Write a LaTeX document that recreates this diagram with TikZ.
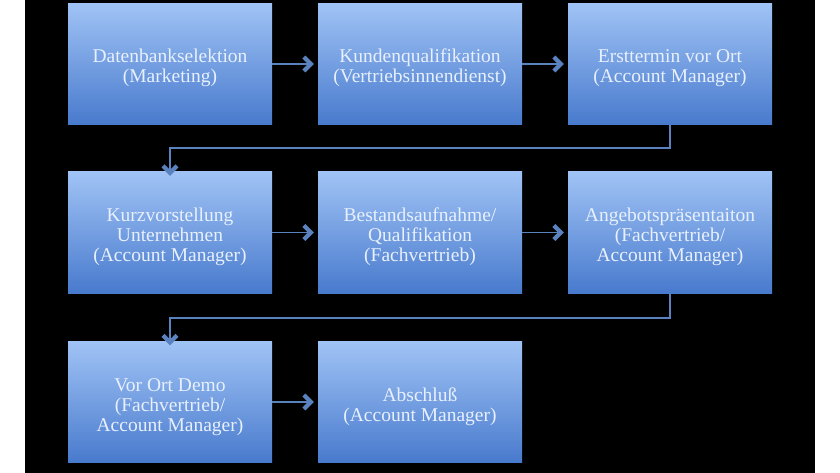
\documentclass[tikz,border=0pt]{standalone}
\usepackage{fontspec}
\setmainfont{Liberation Serif}
\usetikzlibrary{arrows.meta}
\definecolor{boxtop}{RGB}{160,195,245}
\definecolor{boxbot}{RGB}{72,122,205}
\definecolor{txt}{RGB}{232,240,253}
\definecolor{lnk}{RGB}{90,130,190}
\newcommand{\steptext}[1]{\raisebox{-5pt}[\height][\depth]{\begin{tabular}{@{}c@{}}#1\end{tabular}}}
\begin{document}
\begin{tikzpicture}[x=1pt,y=-1pt,
  stepbox/.style={draw=none, minimum width=204pt, minimum height=121pt, inner sep=0pt,
    top color=boxtop, bottom color=boxbot, text=txt,
    font=\fontsize{19.5}{20}\selectfont},
  link/.style={draw=lnk, line width=1.6pt,
    -{Straight Barb[length=7pt,width=14pt,line width=4.2pt]}}]
\useasboundingbox (0,0) rectangle (840,473);
\fill[white] (0,0) rectangle (840,473);
\fill[black] (25,0) rectangle (815,473);
\node[stepbox] (a) at (170,64) {\steptext{Datenbankselektion\\(Marketing)}};
\node[stepbox] (b) at (420,64) {\steptext{Kundenqualifikation\\(Vertriebsinnendienst)}};
\node[stepbox] (c) at (670,64) {\steptext{Ersttermin vor Ort\\(Account Manager)}};
\node[stepbox] (d) at (170,232.5) {\steptext{Kurzvorstellung\\Unternehmen\\(Account Manager)}};
\node[stepbox] (e) at (420,232.5) {\steptext{Bestandsaufnahme/\\Qualifikation\\(Fachvertrieb)}};
\node[stepbox] (f) at (670,232.5) {\steptext{Angebotspräsentaiton\\(Fachvertrieb/\\Account Manager)}};
\node[stepbox] (g) at (170,402) {\steptext{Vor Ort Demo\\(Fachvertrieb/\\Account Manager)}};
\node[stepbox] (h) at (420,402) {\steptext{Abschluß\\(Account Manager)}};
\coordinate (k1) at (670,148);
\coordinate (k2) at (170,148);
\coordinate (k3) at (670,318);
\coordinate (k4) at (170,318);
\draw[link] (a.east) -- ([xshift=-4pt]b.west);
\draw[link] (b.east) -- ([xshift=-4pt]c.west);
\draw[link] (c.south) -- (k1) -- (k2) -- ([yshift=-4pt]d.north);
\draw[link] (d.east) -- ([xshift=-4pt]e.west);
\draw[link] (e.east) -- ([xshift=-4pt]f.west);
\draw[link] (f.south) -- (k3) -- (k4) -- ([yshift=-4pt]g.north);
\draw[link] (g.east) -- ([xshift=-4pt]h.west);
\end{tikzpicture}
\end{document}
